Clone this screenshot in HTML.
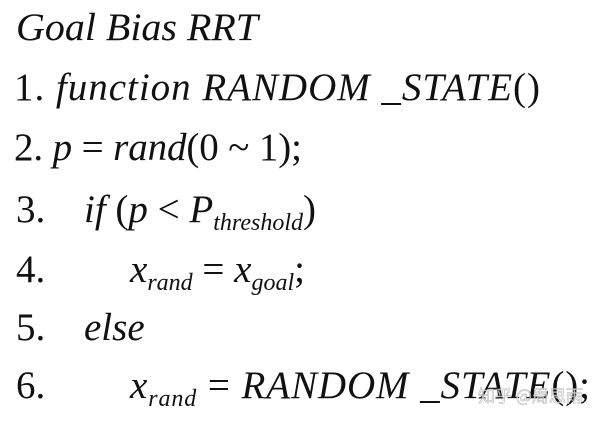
<!DOCTYPE html>
<html><head><style>
html,body{margin:0;padding:0;background:#fff;}
svg{display:block;}
text{font-family:"Liberation Serif",serif;font-size:39px;fill:#111;}
.i{font-style:italic;}
.s{font-size:24px;font-style:italic;}
</style></head><body>
<svg width="600" height="421" viewBox="0 0 600 421">
<text x="16" y="40" class="i" textLength="242" lengthAdjust="spacingAndGlyphs">Goal Bias RRT</text>
<text x="14" y="100" textLength="526" lengthAdjust="spacing">1. <tspan class="i">function RANDOM _STATE</tspan>()</text>
<text x="14" y="160" textLength="288" lengthAdjust="spacing">2. <tspan class="i">p</tspan> = <tspan class="i">rand</tspan>(0 ~ 1);</text>
<text x="16" y="222">3.</text>
<text x="84" y="222"><tspan class="i">if</tspan> (<tspan class="i">p</tspan> &lt; <tspan class="i">P</tspan><tspan class="s" dy="8">threshold</tspan><tspan dy="-8">)</tspan></text>
<text x="16" y="282">4.</text>
<text x="130" y="282"><tspan class="i">x</tspan><tspan class="s" dy="8">rand</tspan><tspan dy="-8"> = </tspan><tspan class="i">x</tspan><tspan class="s" dy="8">goal</tspan><tspan dy="-8">;</tspan></text>
<text x="16" y="340">5.</text>
<text x="84" y="340" class="i">else</text>
<text x="16" y="398">6.</text>
<text x="130" y="398" textLength="460" lengthAdjust="spacing"><tspan class="i">x</tspan><tspan class="s" dy="8">rand</tspan><tspan dy="-8"> = </tspan><tspan class="i">RANDOM _STATE</tspan>();</text>
<text x="478" y="402" style="font-family:'Noto Sans CJK SC',sans-serif;font-size:17px;fill:#fff;opacity:.8;stroke:#999;stroke-width:.5">知乎 @周思雨</text>
</svg>
</body></html>
